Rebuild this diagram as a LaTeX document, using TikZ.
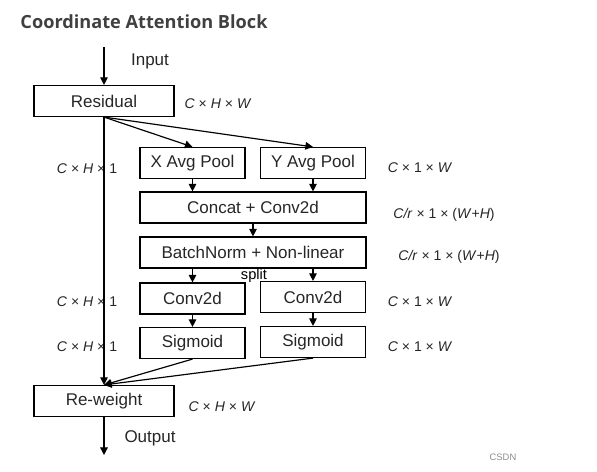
\documentclass[tikz,border=0pt]{standalone}
\usepackage{fontspec}
\setmainfont{Liberation Sans}
\newfontfamily\titlefont{Open Sans}
\usetikzlibrary{arrows.meta}

\begin{document}
\begin{tikzpicture}[x=0.03cm,y=-0.03cm,->,>={Triangle[length=6.5pt,width=6.5pt]},line width=1pt,
                    box/.style={draw,rectangle,inner sep=0pt,minimum height=0.93cm,
                                font=\fontsize{14.5}{17}\selectfont,text=black!85},
                    small/.style={minimum width=3.15cm},
                    wide/.style={minimum width=6.78cm},
                    dim/.style={font=\fontsize{12}{14}\selectfont,inner sep=0pt,text=black!85}]
  \useasboundingbox (0,0) rectangle (597,471);

  \node[font=\titlefont\bfseries\fontsize{15.5}{18}\selectfont,text=black!75,anchor=west]
       (TI) at (16,22) {Coordinate Attention Block};

  \node[box,minimum width=4.2cm] (RES) at (104,101) {Residual};
  \node[box,small] (XP)  at (192.5,163) {X Avg Pool};
  \node[box,small] (YP)  at (313,163)   {Y Avg Pool};
  \node[box,wide]  (CAT) at (253,207.5) {Concat + Conv2d};
  \node[box,wide]  (BN)  at (253,252.5) {BatchNorm + Non-linear};
  \node[box,small] (CL)  at (192.5,298.5) {Conv2d};
  \node[box,small] (CR)  at (313,297)   {Conv2d};
  \node[box,small] (SL)  at (192.5,343) {Sigmoid};
  \node[box,small] (SR)  at (313,342)   {Sigmoid};
  \node[box,minimum width=4.2cm] (RW) at (104,401) {Re-weight};

  \coordinate (IN)  at (104,47);
  \coordinate (OUT) at (104,455);

  % text beside the flow
  \node[box,draw=none] (LIN)  at (150,61)  {Input};
  \node[box,draw=none] (LOUT) at (150,438) {Output};
  \node[font=\fontsize{12.5}{14}\selectfont,inner sep=0pt] (SP) at (254,276) {split};

  \node[dim] (D1) at (218,104) {\textit{C} × \textit{H} × \textit{W}};
  \node[dim] (D2) at (87,169)  {\textit{C} × \textit{H} × 1};
  \node[dim] (D3) at (420,168) {\textit{C} × 1 × \textit{W}};
  \node[dim] (D4) at (444,215) {\textit{C/r} × 1 × (\textit{W}+\textit{H})};
  \node[dim] (D5) at (449,257) {\textit{C/r} × 1 × (\textit{W}+\textit{H})};
  \node[dim] (D6) at (87,302)  {\textit{C} × \textit{H} × 1};
  \node[dim] (D7) at (420,302) {\textit{C} × 1 × \textit{W}};
  \node[dim] (D8) at (87,347)  {\textit{C} × \textit{H} × 1};
  \node[dim] (D9) at (420,347) {\textit{C} × 1 × \textit{W}};
  \node[dim] (D10) at (222,407) {\textit{C} × \textit{H} × \textit{W}};
  \node[font=\fontsize{8}{9}\selectfont,text=black!45] (WM) at (503,457) {CSDN};

  \draw (IN) -- (RES);
  \draw (RES.south) -- (XP.north);
  \draw (RES.south) -- (YP.north);
  \draw (RES.south) -- (RW.north);
  \draw (XP) -- (XP |- CAT.north);
  \draw (YP) -- (YP |- CAT.north);
  \draw (CAT) -- (BN);
  \draw (BN.south -| CL) -- (CL);
  \draw (BN.south -| CR) -- (CR);
  \draw (CL) -- (SL);
  \draw (CR) -- (SR);
  \draw (SL.south) -- (RW.north);
  \draw (SR.south) -- (RW.north);
  \draw (RW) -- (OUT);
\end{tikzpicture}
\end{document}
